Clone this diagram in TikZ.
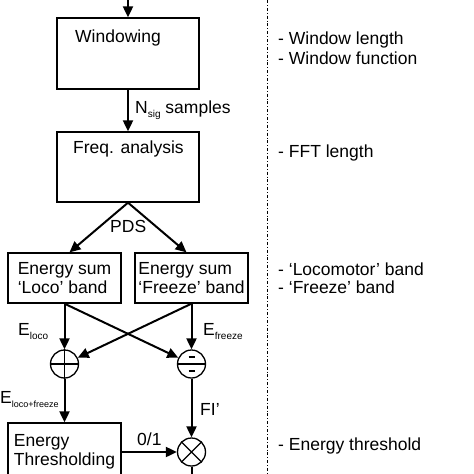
\documentclass[tikz,border=0pt]{standalone}
\usepackage{fontspec}
\setmainfont{Liberation Sans}
\usetikzlibrary{arrows.meta}
\newcommand{\lowidx}[2][10]{\raisebox{-4pt}{\fontsize{#1}{#1}\selectfont #2}}

\begin{document}
\begin{tikzpicture}[x=1pt,y=-1pt,
  every node/.style={font=\fontsize{17.5}{19}\selectfont},
  blk/.style={draw, line width=1.3pt, rectangle, inner sep=0pt},
  txt/.style={anchor=base west, inner sep=0pt},
  opc/.style={draw, circle, line width=1.3pt, minimum size=28pt, inner sep=0pt},
  flow/.style={line width=2pt, -{Triangle[length=11pt,width=10pt]}}]
\useasboundingbox (0,0) rectangle (474,474);
% blocks
\node[blk, minimum width=142pt, minimum height=71pt] (win) at (128,53.5) {};
\node[txt] (wintxt) at (75,42) {Windowing};
\node[blk, minimum width=142pt, minimum height=70pt] (freq) at (128,167) {};
\node[txt] (freqtxt) at (73,153) {Freq. analysis};
\node[blk, minimum width=113pt, minimum height=50pt, align=left] (loco) at (64.5,278) {Energy sum\\‘Loco’ band};
\node[blk, minimum width=113pt, minimum height=50pt, align=left] (frz) at (191.5,278) {Energy sum\\‘Freeze’ band};
\node[blk, minimum width=113pt, minimum height=58pt, align=left] (thr) at (64.5,452) {Energy\\Thresholding};
% operators
\node[opc] (sum) at (64.5,364) {};
\node[opc] (div) at (191.5,364) {};
\node[opc] (mul) at (191.5,452) {};
\draw[line width=1.2pt] (sum.north) -- (sum.south) (sum.west) -- (sum.east);
\draw[line width=1.2pt] (div.west) -- (div.east);
\draw[line width=1.2pt] ([shift={(-3pt,7pt)}]div.center) -- ([shift={(3pt,7pt)}]div.center);
\draw[line width=1.2pt] ([shift={(-3pt,-7pt)}]div.center) -- ([shift={(3pt,-7pt)}]div.center);
\draw[line width=1.2pt] (mul.north west) -- (mul.south east) (mul.north east) -- (mul.south west);
% connectors
\coordinate (src) at (128,-4);
\coordinate (out) at (191.5,480);
\draw[flow] (src) -- (win.north);
\draw[flow] (win.south) -- (freq.north);
\draw[flow] (freq.south) -- ([xshift=5pt]loco.north);
\draw[flow] (freq.south) -- ([xshift=-5pt]frz.north);
\draw[flow] (loco.south) -- (sum.north);
\draw[flow] (frz.south) -- (div.north);
\draw[flow] (loco.south) -- (div);
\draw[flow] (frz.south) -- (sum);
\draw[flow] (sum.south) -- (thr.north);
\draw[flow] (div.south) -- (mul.north);
\draw[flow] (thr.east) -- (mul.west);
\draw[line width=2pt] (mul.south) -- (out);
% labels
\node[txt] (nsig) at (135,113) {N\lowidx{sig} samples};
\node[txt] (pds) at (110,232) {PDS};
\node[txt] (eloco) at (18,335) {E\lowidx{loco}};
\node[txt] (efrz) at (203,335) {E\lowidx{freeze}};
\node[txt] (esum) at (0,403) {E\lowidx[9]{loco+freeze}};
\node[txt] (fi) at (200,415) {FI’};
\node[txt] (bin) at (137,445) {0/1};
% parameters
\draw[line width=0.8pt, dash pattern=on 3pt off 2pt on 0.8pt off 2pt] (267,0) -- (267,474);
\node[txt] (p1) at (278,44) {- Window length};
\node[txt] (p2) at (278,64) {- Window function};
\node[txt] (p3) at (278,157) {- FFT length};
\node[txt] (p4) at (278,275) {- ‘Locomotor’ band};
\node[txt] (p5) at (278,293) {- ‘Freeze’ band};
\node[txt] (p6) at (278,450) {- Energy threshold};
\end{tikzpicture}
\end{document}
